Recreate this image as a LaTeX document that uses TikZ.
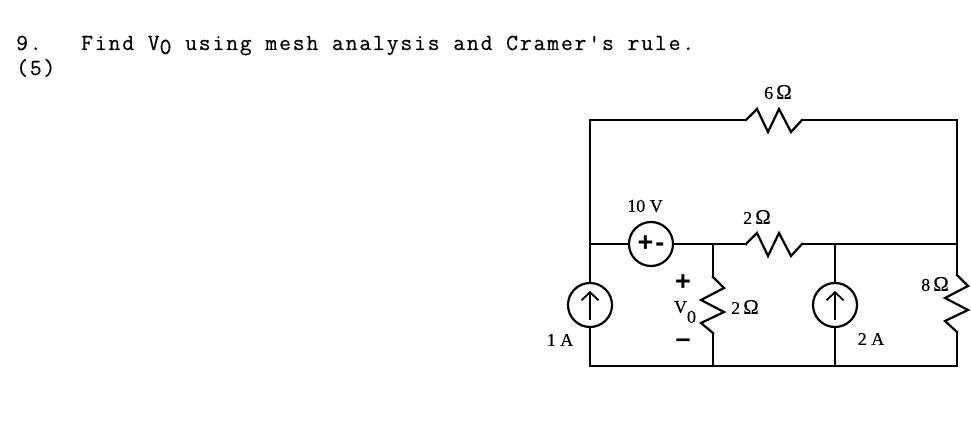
\documentclass[tikz,border=0pt]{standalone}
\usepackage{fontspec}
\setmainfont{Liberation Serif}[FakeBold=0.4]
\setsansfont{Liberation Sans}
\setmonofont{Latin Modern Mono}[LetterSpace=8,AutoFakeBold=0.4]
\usepackage{tikz}
\usetikzlibrary{arrows.meta,shapes}
\newcommand{\ohm}{\hspace{3pt}{\fontsize{21}{21}\selectfont Ω}}
\tikzstyle{wire} = [draw,line width=2.2pt,line cap=rect]
\tikzstyle{hres} = [wire,line join=miter,to path={-- ++(11,-11) -- ++(11,23) -- ++(11,-23) -- ++(12,23) -- (\tikztotarget)}]
\tikzstyle{vres} = [wire,line join=miter,to path={-- ++(11,11) -- ++(-23,12) -- ++(23,12) -- ++(-23,11) -- (\tikztotarget)}]
\tikzstyle{source} = [circle,draw,line width=2.2pt,fill=white,minimum size=44pt,inner sep=0pt]
\tikzstyle{uparrow} = [draw,line width=1.8pt,-{Straight Barb[length=8pt,width=17pt,line width=1.8pt]}]
\tikzstyle{value} = [inner sep=0pt,font=\fontsize{18}{18}\selectfont]
\tikzstyle{polarity} = [inner sep=0pt,font=\fontsize{27}{27}\sffamily\bfseries]
\tikzstyle{question} = [inner sep=0pt,anchor=base west,font=\fontsize{23}{23}\ttfamily\bfseries]
\begin{document}
\begin{tikzpicture}[x=1pt,y=-1pt]
    \useasboundingbox (0,0) rectangle (971,430);
    % Question text
    \node[question] (num) at (16,50) {9.};
    \node[question] (task) at (81,50) {Find V\raisebox{-4pt}{0} using mesh analysis and Cramer's rule.};
    \node[question] (marks) at (16,75) {(5)};

    % First the corners and junctions
    \foreach \pos/\name in {{(590,120)/tl}, {(746,120)/ra}, {(802,120)/rb}, {(957,120)/tr},
        {(590,244)/ml}, {(713,244)/mb}, {(746,244)/sa}, {(802,244)/sb}, {(835,244)/mc}, {(957,244)/mr},
        {(713,277)/ta}, {(713,333)/tb}, {(957,275)/ua}, {(957,332)/ub},
        {(590,366)/bl}, {(713,366)/bb}, {(835,366)/bc}, {(957,366)/br}}
        \path \pos coordinate (\name);

    % Then the sources
    \node[source,font=\fontsize{27}{27}\sffamily\bfseries] (vs) at (651,244) {+\hspace{2pt}-};
    \foreach \pos/\name in {{(590,305)/ia}, {(835,305)/ib}}
        \node[source] (\name) at \pos {};
    \foreach \name in {ia,ib}
        \path[uparrow] ([yshift=-15pt]\name.center) -- ([yshift=14pt]\name.center);

    % Connect everything with wires
    \foreach \source/\dest in {tl/ra, rb/tr, tl/ml, tr/mr, ml/vs, vs/mb, mb/sa, sb/mc, mc/mr, mb/ta, tb/bb, mr/ua, ub/br, ml/ia, ia/bl, mc/ib, ib/bc, bl/bb, bb/bc, bc/br}
        \path[wire] (\source) -- (\dest);

    % Resistors
    \foreach \source/\dest in {ra/rb, sa/sb}
        \path[hres] (\source) to (\dest);
    \foreach \source/\dest in {ta/tb, ua/ub}
        \path[vres] (\source) to (\dest);

    % Values
    \foreach \pos/\name/\txt in {{(778,92)/six/6\ohm}, {(757,217)/two/2\ohm}, {(645,206)/ten/10 V}, {(745,307)/twob/2\ohm}, {(560,340)/one/1 A}, {(871,339)/twoa/2 A}, {(935,284)/eight/8\ohm}}
        \node[value] (\name) at \pos {\txt};
    \node[polarity] (plus) at (683,283) {+};
    \node[value] (vo) at (685,312) {V\raisebox{-10pt}{0}};
    \node[polarity] (minus) at (683,343) {--};
\end{tikzpicture}
\end{document}
